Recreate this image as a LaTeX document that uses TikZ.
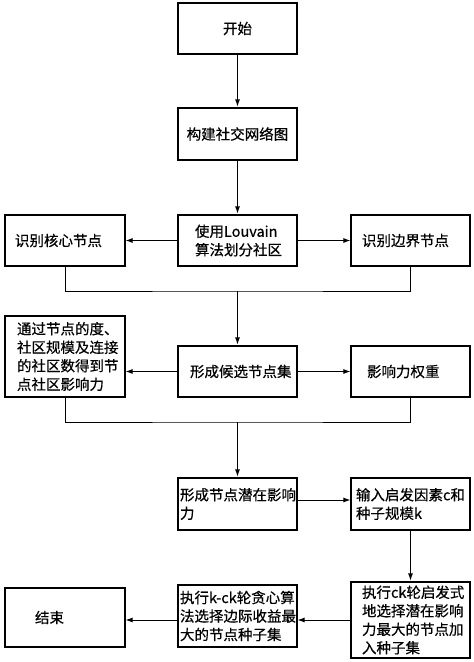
\documentclass[tikz,border=0pt]{standalone}
\usepackage{fontspec}
\setmainfont[FakeBold=0.5]{Noto Sans CJK SC}
\usetikzlibrary{arrows.meta}
\begin{document}
\begin{tikzpicture}[x=1pt,y=-1pt,
  font=\fontsize{14.5}{18.5}\selectfont,
  box/.style={draw,line width=1.2pt,inner sep=0pt,minimum width=119pt,align=left},
  thickarr/.style={line width=1.8pt,-{Latex[length=8pt,width=5pt]}},
  thinarr/.style={line width=0.9pt,-{Latex[length=7pt,width=5pt]}},
  merge/.style={line width=0.9pt}]
\useasboundingbox (0,0) rectangle (474,662);
\node[box,minimum height=51pt,text width=117pt,align=center] (start) at (237.5,28.5) {开始};
\node[box,minimum height=52pt,text width=117pt,align=center] (build) at (237.5,134) {构建社交网络图};
\node[box,minimum width=120pt,minimum height=51pt,text width=100pt] (core) at (65,240.5) {识别核心节点};
\node[box,minimum height=51pt,text width=85pt] (louv) at (237.5,240.5) {使用Louvain\\算法划分社区};
\node[box,minimum height=51pt,text width=97pt] (bound) at (410.5,240.5) {识别边界节点};
\node[box,minimum width=120pt,minimum height=81pt,text width=96pt] (comm) at (65,356.5) {通过节点的度、\\社区规模及连接\\的社区数得到节\\点社区影响力};
\node[box,minimum height=51pt,text width=95pt] (cand) at (237.5,371.5) {形成候选节点集};
\node[box,minimum height=51pt,text width=87pt] (weight) at (410.5,371.5) {影响力权重};
\node[box,minimum height=52pt,text width=115pt] (pot) at (237.5,504) {形成节点潜在影响\\力};
\node[box,minimum height=52pt,text width=109pt] (inp) at (410.5,504) {输入启发因素c和\\种子规模k};
\node[box,minimum height=76pt,text width=97pt] (ck) at (410.5,620) {执行ck轮启发式\\地选择潜在影响\\力最大的节点加\\入种子集};
\node[box,minimum height=62pt,text width=115pt] (greedy) at (237.5,616) {执行k-ck轮贪心算\\法选择边际收益最\\大的节点种子集};
\node[box,minimum width=120pt,minimum height=59pt,text width=60pt] (end) at (65,617.5) {结束};
\coordinate (m1) at (237.5,291);
\coordinate (m2) at (237.5,422);
% connectors
\draw[thickarr] (start) -- (build);
\draw[thickarr] (build) -- (louv);
\draw[thinarr] (louv) -- (core);
\draw[thinarr] (louv) -- (bound);
\draw[merge] (core.south) |- (m1) -| (bound.south);
\draw[thickarr] (m1) -- (cand);
\draw[thinarr] (cand.west) -- (cand.west -| comm.east);
\draw[thinarr] (cand) -- (weight);
\draw[merge] (comm.south) |- (m2) -| (weight.south);
\draw[thickarr] (m2) -- (pot);
\draw[thinarr] (pot.east |- 0,500) -- (inp.west |- 0,500);
\draw[thickarr] (inp) -- (ck);
\draw[thinarr] (ck.west) -- (ck.west -| greedy.east);
\draw[thinarr] (ck.west -| greedy.west) -- (ck.west -| end.east);
\end{tikzpicture}
\end{document}
